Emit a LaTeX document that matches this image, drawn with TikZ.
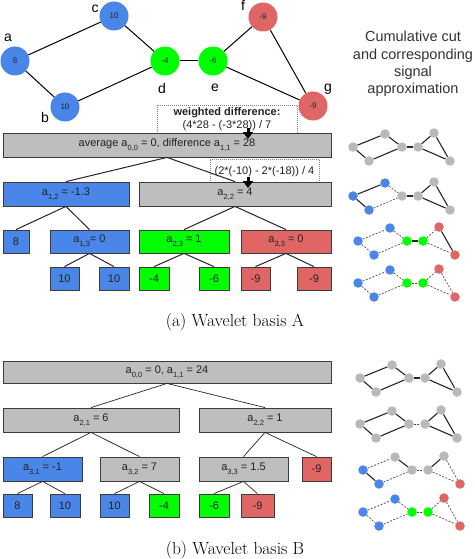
\documentclass[tikz,border=0pt]{standalone}
\usepackage{fontspec}
\newfontfamily\arial{Liberation Sans}
\usetikzlibrary{arrows.meta}
\definecolor{wblue}{RGB}{74,134,232}
\definecolor{wgreen}{RGB}{0,255,0}
\definecolor{wred}{RGB}{224,102,102}
\definecolor{wgray}{RGB}{190,190,190}
\definecolor{ngray}{RGB}{185,185,185}
\definecolor{bord}{RGB}{60,60,60}
\definecolor{txt}{RGB}{35,35,35}
\newcommand\sbs[1]{\raisebox{-0.38em}{\fontsize{7.5}{8}\selectfont #1}}
\newcommand\wbox[7]{\node[#2, minimum width={#4-#3}, minimum height={#6-#5}] (#1) at ({(#3+#4)/2},{(#5+#6)/2}) {#7};}
\newcommand\minig[9]{%
 \begin{scope}[shift={(#2,#3)}]
 \node[mn,fill=#4] (#1a) at (0,0) {};
 \node[mn,fill=#5] (#1b) at (16,14) {};
 \node[mn,fill=#6] (#1c) at (32,-13) {};
 \node[mn,fill=#7] (#1d) at (49,0) {};
 \node[mn,fill=#7] (#1e) at (65,0) {};
 \node[mn,fill=#8] (#1f) at (81,-14) {};
 \node[mn,fill=#9] (#1g) at (97,14) {};
 \end{scope}}
\newcommand\minie[9]{%
 \draw[#2] (#1a) -- (#1c); \draw[#3] (#1a) -- (#1b);
 \draw[#4] (#1c) -- (#1d); \draw[#5] (#1b) -- (#1d);
 \draw[#6] (#1d) -- (#1e); \draw[#7] (#1e) -- (#1f);
 \draw[#8] (#1e) -- (#1g); \draw[#9] (#1f) -- (#1g);}
\begin{document}
\begin{tikzpicture}[x=1pt,y=-1pt,
  bx/.style={draw=bord, line width=0.8pt, inner sep=0pt, font=\arial\fontsize{11}{13}\selectfont, text=txt},
  gbx/.style={bx, fill=wgray}, bbx/.style={bx, fill=wblue},
  grx/.style={bx, fill=wgreen}, rbx/.style={bx, fill=wred},
  dbox/.style={draw=gray, line width=0.8pt, dash pattern=on 1pt off 1pt, inner sep=0pt, align=center,
     font=\arial\fontsize{11}{12.5}\selectfont, text=txt},
  tl/.style={draw=black!85, line width=1pt},
  tlb/.style={draw=black!85, line width=0.7pt},
  gc/.style={circle, minimum size=29pt, inner sep=0pt, font=\arial\fontsize{8}{9}\selectfont, text=txt},
  glab/.style={font=\arial\fontsize{14}{16}\selectfont, inner sep=0pt},
  ge/.style={line width=1pt, black},
  mn/.style={circle, minimum size=9.5pt, inner sep=0pt},
  solidE/.style={line width=1.1pt, black!85},
  dashE/.style={line width=0.7pt, black!70, dash pattern=on 2pt off 1.5pt},
  fat/.style={-{Triangle[length=7pt,width=10pt]}, line width=3pt, black},
  capt/.style={font=\fontsize{17.5}{20}\selectfont, inner sep=0pt}]
\useasboundingbox (0,0) rectangle (474,559);
\fill[white] (0,0) rectangle (474,559);

% ---------- top graph ----------
\node[gc, fill=wblue]  (a) at (15,61) {8};
\node[gc, fill=wblue]  (b) at (65,107) {10};
\node[gc, fill=wblue]  (c) at (114,16) {10};
\node[gc, fill=wgreen] (d) at (165,61) {-4};
\node[gc, fill=wgreen] (e) at (213,61) {-6};
\node[gc, fill=wred]   (f) at (263,17) {-9};
\node[gc, fill=wred]   (g) at (313,106) {-9};
\draw[ge] (a) -- (c); \draw[ge] (a) -- (b); \draw[ge] (c) -- (d); \draw[ge] (b) -- (d);
\draw[ge] (d) -- (e); \draw[ge] (e) -- (f); \draw[ge] (e) -- (g); \draw[ge] (f) -- (g);
\node[glab] (la) at (8,38) {a};
\node[glab] (lb) at (45,117) {b};
\node[glab] (lc) at (95,9) {c};
\node[glab] (ld) at (162,88) {d};
\node[glab] (le) at (215,88) {e};
\node[glab] (lf) at (243,5) {f};
\node[glab] (lg) at (328,89) {g};

\node[font=\arial\fontsize{14.5}{17.3}\selectfont, align=center, text=black!80] (cum) at (413,64)
  {Cumulative cut\\and corresponding\\signal\\approximation};

% ---------- Wavelet basis A ----------
\wbox{wd}{dbox}{157}{297}{105}{133}{\textbf{weighted difference:}\\(4*28 - (-3*28)) / 7}
\wbox{wd2}{dbox}{210}{319}{159}{184}{(2*(-10) - 2*(-18)) / 4}
\wbox{rA}{gbx}{3}{331}{133}{157}{average a\sbs{0,0} = 0, difference a\sbs{1,1} = 28}
\wbox{a12}{bbx}{3}{129}{182}{206}{a\sbs{1,2} = -1.3}
\wbox{a22}{gbx}{139}{331}{182}{206}{a\sbs{2,2} = 4}
\wbox{v8}{bbx}{3}{29}{230}{253}{8}
\wbox{a13}{bbx}{50}{129}{230}{253}{a\sbs{1,3}= 0}
\wbox{a23}{grx}{139}{229}{230}{253}{a\sbs{2,3} = 1}
\wbox{a33}{rbx}{241}{331}{230}{253}{a\sbs{3,3} = 0}
\wbox{v10a}{bbx}{50}{79}{267}{290}{10}
\wbox{v10b}{bbx}{99}{129}{267}{290}{10}
\wbox{vm4}{grx}{139}{169}{267}{290}{-4}
\wbox{vm6}{grx}{199}{229}{267}{290}{-6}
\wbox{vm9a}{rbx}{241}{270}{267}{290}{-9}
\wbox{vm9b}{rbx}{297}{331}{267}{290}{-9}
\draw[tl] (rA.south) -- (a12.north);
\draw[tl] (rA.south) -- (a22.north);
\draw[tl] (a12.south) -- (v8.north);
\draw[tl] (a12.south) -- (a13.north);
\draw[tl] (a22.south) -- (a23.north);
\draw[tl] (a22.south) -- (a33.north);
\draw[tl] (a13.south) -- (v10a.north);
\draw[tl] (a13.south) -- (v10b.north);
\draw[tl] (a23.south) -- (vm4.north);
\draw[tl] (a23.south) -- (vm6.north);
\draw[tl] (a33.south) -- (vm9a.north);
\draw[tl] (a33.south) -- (vm9b.north);
\coordinate (s1) at (248,128);
\coordinate (t1) at (248,139);
\coordinate (s2) at (248,177);
\coordinate (t2) at (248,188);
\draw[fat] (s1) -- (t1);
\draw[fat] (s2) -- (t2);
\node[capt] (capA) at (235,322) {(a) Wavelet basis A};

% ---------- Wavelet basis B ----------
\wbox{rB}{gbx}{3}{331}{361}{383}{a\sbs{0,0} = 0, a\sbs{1,1} = 24}
\wbox{b21}{gbx}{3}{179}{408}{432}{a\sbs{2,1} = 6}
\wbox{b22}{gbx}{199}{331}{408}{432}{a\sbs{2,2} = 1}
\wbox{b31}{bbx}{3}{82}{457}{481}{a\sbs{3,1} = -1}
\wbox{b32}{gbx}{100}{179}{457}{481}{a\sbs{3,2} = 7}
\wbox{b33}{gbx}{199}{288}{457}{481}{a\sbs{3,3} = 1.5}
\wbox{bm9}{rbx}{302}{331}{457}{481}{-9}
\wbox{w8}{bbx}{3}{32}{494}{517}{8}
\wbox{w10a}{bbx}{50}{80}{494}{517}{10}
\wbox{w10b}{bbx}{100}{129}{494}{517}{10}
\wbox{wm4}{grx}{149}{179}{494}{517}{-4}
\wbox{wm6}{grx}{199}{229}{494}{517}{-6}
\wbox{wm9}{rbx}{241}{274}{494}{517}{-9}
\draw[tlb] (rB.south) -- (b21.north);
\draw[tlb] (rB.south) -- (b22.north);
\draw[tlb] (b21.south) -- (b31.north);
\draw[tlb] (b21.south) -- (b32.north);
\draw[tlb] (b22.south) -- (b33.north);
\draw[tlb] (b22.south) -- (bm9.north);
\draw[tlb] (b31.south) -- (w8.north);
\draw[tlb] (b31.south) -- (w10a.north);
\draw[tlb] (b32.south) -- (w10b.north);
\draw[tlb] (b32.south) -- (wm4.north);
\draw[tlb] (b33.south) -- (wm6.north);
\draw[tlb] (b33.south) -- (wm9.north);
\node[capt] (capB) at (235,550) {(b) Wavelet basis B};

% ---------- mini graphs ----------
\minig{A1-}{353}{147}{ngray}{ngray}{ngray}{ngray}{ngray}{ngray}
\minie{A1-}{solidE}{solidE}{solidE}{solidE}{solidE}{solidE}{solidE}{solidE}
\minig{A2-}{353}{196}{wblue}{wblue}{wblue}{ngray}{ngray}{ngray}
\minie{A2-}{solidE}{solidE}{dashE}{dashE}{solidE}{solidE}{solidE}{solidE}
\minig{A3-}{358}{241}{wblue}{wblue}{wblue}{wgreen}{wred}{wred}
\minie{A3-}{dashE}{dashE}{dashE}{dashE}{solidE}{dashE}{dashE}{solidE}
\minig{A4-}{358}{283}{wblue}{wblue}{wblue}{wgreen}{wred}{wred}
\minie{A4-}{dashE}{dashE}{dashE}{dashE}{dashE}{dashE}{dashE}{dashE}
\minig{B1-}{360}{378}{ngray}{ngray}{ngray}{ngray}{ngray}{ngray}
\minie{B1-}{solidE}{solidE}{solidE}{solidE}{solidE}{solidE}{solidE}{solidE}
\minig{B2-}{360}{424}{ngray}{ngray}{ngray}{ngray}{ngray}{ngray}
\minie{B2-}{solidE}{solidE}{solidE}{solidE}{dashE}{solidE}{solidE}{solidE}
\minig{B3-}{363}{470}{wblue}{wblue}{ngray}{ngray}{ngray}{wred}
\minie{B3-}{dashE}{solidE}{solidE}{dashE}{dashE}{solidE}{dashE}{dashE}
\minig{B4-}{363}{512}{wblue}{wblue}{wblue}{wgreen}{wred}{wred}
\minie{B4-}{dashE}{dashE}{dashE}{dashE}{dashE}{dashE}{dashE}{dashE}
\end{tikzpicture}
\end{document}
